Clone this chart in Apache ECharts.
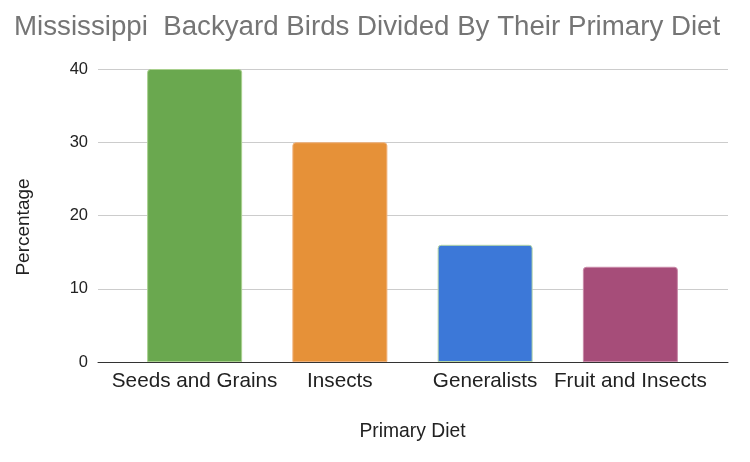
<!DOCTYPE html>
<html>

<head>
	<meta charset="utf-8">
	<title>Backyard Birds</title>
	<script src="https://cdn.jsdelivr.net/npm/echarts@6/dist/echarts.min.js"></script>
	<style>
		html, body { margin: 0; padding: 0; background: #fff; }
	</style>
</head>

<body>
	<div id="main" style="width: 750px;height:462px;"></div>
	<script type="text/javascript">
	var myChart = echarts.init(document.getElementById('main'));

	// data
	var categories = ['Seeds and Grains', 'Insects', 'Generalists', 'Fruit and Insects'];
	var percentages = [40, 30, 16, 13];
	var yTicks = { min: 0, max: 40, step: 10 };

	// styling
	var font = 'Liberation Sans, Arial, sans-serif';
	var barColors = ['#6aa84f', '#e69138', '#3c78d8', '#a64d79'];
	var barBorders = ['#a9d08e', '#f0b27a', '#b6d7a8', '#c98aa8'];

	var barData = percentages.map(function(v, i) {
		return {
			value: v,
			itemStyle: { color: barColors[i], borderColor: barBorders[i] }
		};
	});

	option = {
		animation: false,
		backgroundColor: '#fff',
		textStyle: { fontFamily: font },
		title: {
			text: 'Mississippi  Backyard Birds Divided By Their Primary Diet',
			left: 14,
			top: 13,
			padding: 0,
			textStyle: { fontFamily: font, fontSize: 27.7, fontWeight: 'normal', color: '#757575' }
		},
		graphic: [{
			type: 'text',
			x: 14,
			y: 227,
			rotation: Math.PI / 2,
			style: {
				text: 'Percentage',
				font: '19px ' + font,
				fill: '#222',
				align: 'center',
				verticalAlign: 'top'
			}
		}],
		grid: [
			// full width: gridlines, y labels, baseline
			{ left: 98, right: 22, top: 69, bottom: 100 },
			// bars and category labels
			{ left: 122, right: 47, top: 69, bottom: 100 }
		],
		xAxis: [{
			gridIndex: 0,
			type: 'value',
			min: 0,
			max: 1,
			axisLine: { show: true, lineStyle: { color: '#333', width: 1 } },
			axisTick: { show: false },
			axisLabel: { show: false },
			splitLine: { show: false }
		}, {
			gridIndex: 1,
			type: 'category',
			data: categories,
			axisLine: { show: false },
			axisTick: { show: false },
			axisLabel: { fontSize: 20.7, color: '#222', margin: 9, interval: 0 },
			name: 'Primary Diet',
			nameLocation: 'middle',
			nameGap: 60,
			nameTextStyle: { fontSize: 19.3, color: '#222' }
		}],
		yAxis: [{
			gridIndex: 0,
			type: 'value',
			min: yTicks.min,
			max: yTicks.max,
			interval: yTicks.step,
			axisLine: { show: false },
			axisTick: { show: false },
			axisLabel: { fontSize: 16.5, color: '#222', margin: 10 },
			splitLine: { lineStyle: { color: '#cccccc', width: 1 } }
		}, {
			gridIndex: 1,
			type: 'value',
			min: yTicks.min,
			max: yTicks.max,
			interval: yTicks.step,
			show: false,
			splitLine: { show: false }
		}],
		series: [{
			name: 'Percentage',
			type: 'bar',
			xAxisIndex: 1,
			yAxisIndex: 1,
			barWidth: 95,
			itemStyle: { borderWidth: 1, borderRadius: [3, 3, 0, 0] },
			data: barData
		}]
	};

	myChart.setOption(option);
	</script>
</body>

</html>
